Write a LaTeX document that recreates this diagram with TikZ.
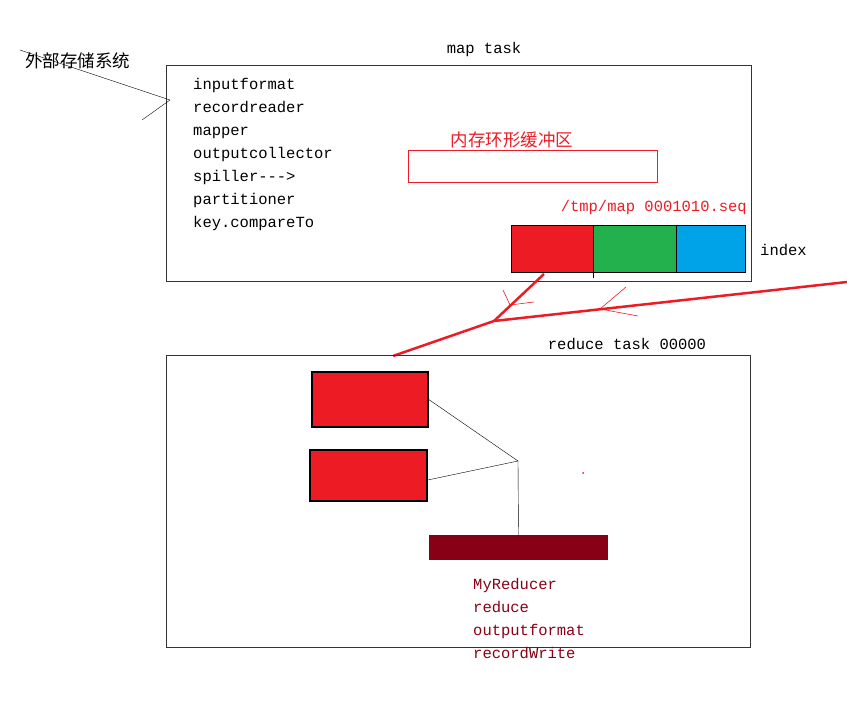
\documentclass[tikz,border=0pt]{standalone}
\usepackage{fontspec}
\setmainfont{Liberation Mono}[Ligatures=NoCommon]
\newfontfamily\cjk{Noto Sans CJK SC}
\definecolor{pr}{HTML}{ED1C24}
\definecolor{pg}{HTML}{22B14C}
\definecolor{pb}{HTML}{00A2E8}
\definecolor{dr}{HTML}{880015}
\begin{document}
\begin{tikzpicture}[x=1pt,y=-1pt,
  txt/.style={anchor=west,inner sep=0,text height=10pt,text depth=3pt,font=\fontsize{15.5}{17}\selectfont},
  box/.style={draw=black!80,line width=1pt},
  rl/.style={draw=pr,line width=2.5pt},
  rt/.style={draw=pr,line width=0.6pt}]
\useasboundingbox (0,0) rectangle (847,703);
\node[box,minimum width=585,minimum height=216,inner sep=0] (map) at (458.5,174) {};
\node[inner sep=0,font=\fontsize{15.5}{17}\selectfont] (mt) at (484,49) {map task};
\node[txt,font=\cjk\fontsize{17.5}{18}\selectfont] (ext) at (25,64) {外部存储系统};
\coordinate (a0) at (20,50); \coordinate (a1) at (170,100); \coordinate (a2) at (142,120);
\draw (a0) -- (a1) -- (a2);
\foreach \t [count=\i] in {inputformat,recordreader,mapper,outputcollector,spiller-{}-{}-{}>,partitioner,key.compareTo}
  \node[txt] (l\i) at (193,63+23*\i) {\t};
\node[draw=pr,minimum width=249,minimum height=32,inner sep=0] (buf) at (532.5,166) {};
\node[inner sep=0,text=pr,font=\cjk\fontsize{17.5}{18}\selectfont] (bufl) at (512,140) {内存环形缓冲区};
\node[inner sep=0,text=pr,font=\fontsize{15.5}{17}\selectfont,anchor=east] (seq) at (747,207) {/tmp/map 0001010.seq};
\node[draw=black,fill=pr,minimum width=82,minimum height=47,inner sep=0] (r1) at (552,248.5) {};
\node[draw=black,fill=pg,minimum width=83,minimum height=47,inner sep=0] (g1) at (634.5,248.5) {};
\node[draw=black,fill=pb,minimum width=69,minimum height=47,inner sep=0] (b1) at (710.5,248.5) {};
\draw (g1.south west) -- ++(0,6);
\node[txt] (idx) at (760,252) {index};
\coordinate (j) at (494,321); \coordinate (e1) at (847,282); \coordinate (e2) at (393,356); \coordinate (s1) at (544,274);
\draw[rl] (s1) -- (j);
\draw[rl] (e1) -- (j) -- (e2);
\draw[rt] (503,290) -- (510,305) -- (534,302);
\draw[rt] (626,287) -- (600,309) -- (638,316);
\node[box,minimum width=584,minimum height=291,inner sep=0] (red) at (458,501.5) {};
\node[inner sep=0,font=\fontsize{15.5}{17}\selectfont] (rt) at (627,344) {reduce task 00000};
\node[draw=black,fill=pr,line width=1.5pt,minimum width=116,minimum height=55,inner sep=0] (k1) at (370,399.5) {};
\node[draw=black,fill=pr,line width=1.5pt,minimum width=117,minimum height=51,inner sep=0] (k2) at (368.5,475.5) {};
\coordinate (m) at (518,461);
\node[fill=dr,minimum width=179,minimum height=25,inner sep=0] (bar) at (518.5,547.5) {};
\draw (k1.east) -- (m) -- (k2.east|-0,480);
\draw (m) -- (bar.north);
\fill[pr] (583,473) circle (1pt);
\foreach \t [count=\i] in {MyReducer,reduce,outputformat,recordWrite}
  \node[txt,text=dr] (o\i) at (473,563+23*\i) {\t};
\end{tikzpicture}
\end{document}
